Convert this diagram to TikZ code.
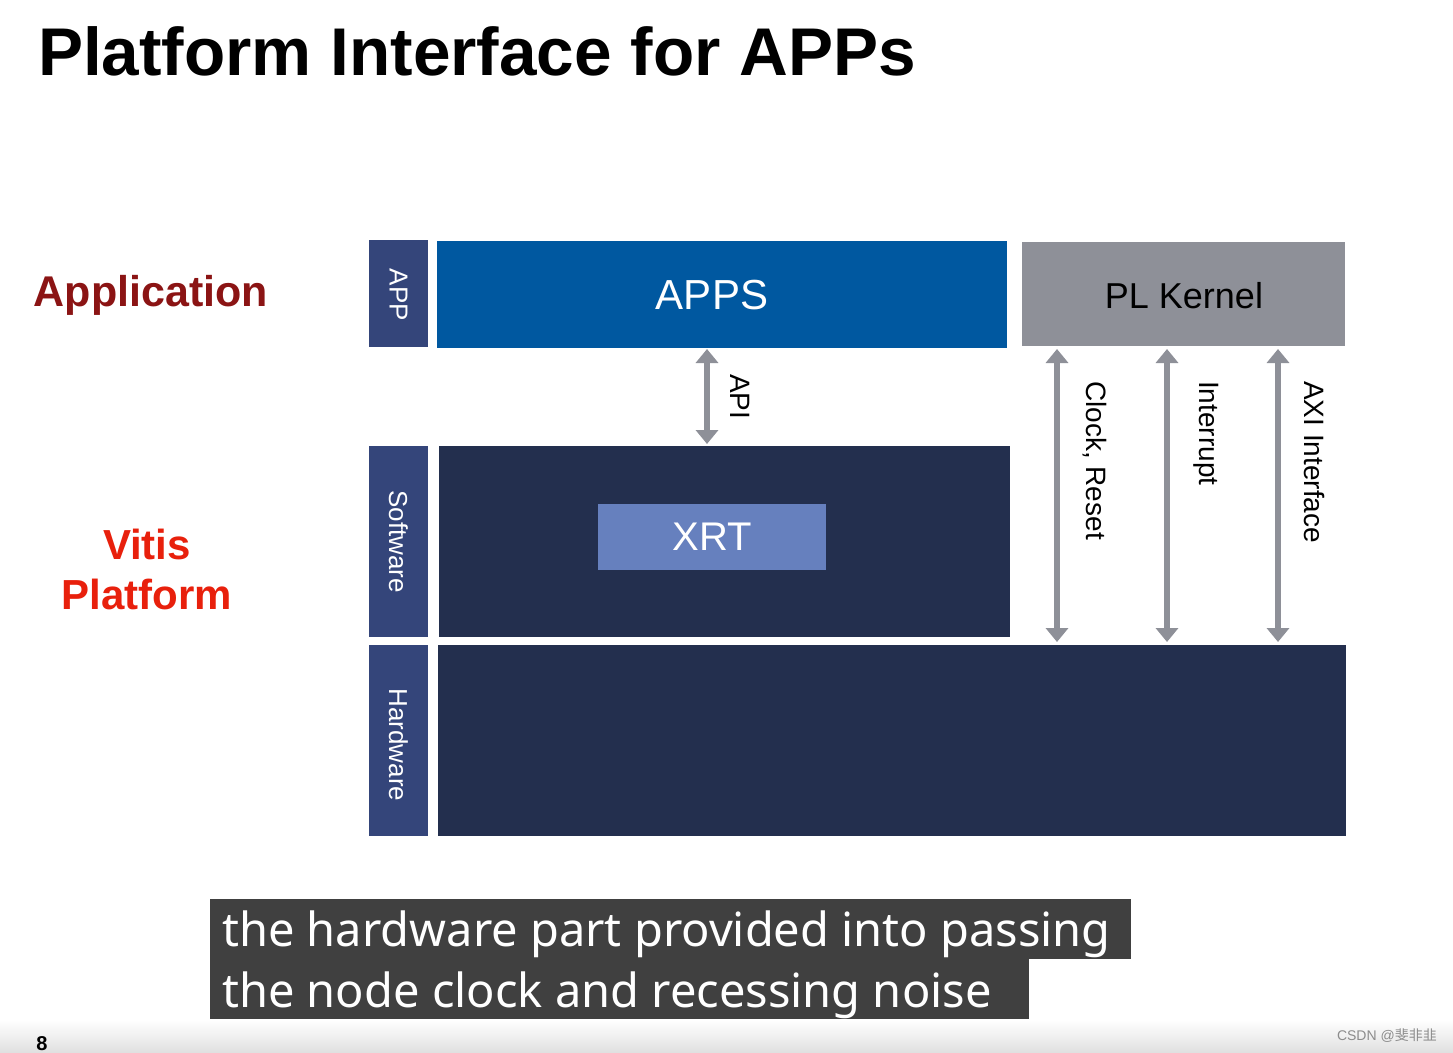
\documentclass[tikz,border=0pt]{standalone}
\usepackage{fontspec}
\setmainfont{Liberation Sans}
\newfontfamily\capfont{Noto Sans}
\newfontfamily\cjkfont{Noto Sans CJK SC}
\usetikzlibrary{arrows.meta}
\definecolor{side}{HTML}{34457A}
\definecolor{apps}{HTML}{0058A0}
\definecolor{plk}{HTML}{8E9098}
\definecolor{dark}{HTML}{232F4E}
\definecolor{xrt}{HTML}{6680BE}
\definecolor{darkred}{HTML}{8B1414}
\definecolor{vred}{HTML}{E8200C}
\definecolor{capbg}{HTML}{404040}
\tikzset{
 sidel/.style={text=white,font=\fontsize{26}{26}\selectfont,rotate=-90},
 arr/.style={draw=plk,line width=6pt,{Triangle[length=14pt,width=22pt]}-{Triangle[length=14pt,width=22pt]}},
 arrl/.style={font=\fontsize{28}{28}\selectfont,rotate=-90,anchor=south west,inner sep=0},
 captxt/.style={anchor=base west,inner sep=0,text=white,font=\capfont\fontsize{47}{47}\selectfont},
}
\begin{document}
\begin{tikzpicture}[x=1pt,y=-1pt]
\useasboundingbox (0,0) rectangle (1453,1052);
\fill[white] (0,0) rectangle (1453,1052);
\shade[top color=white,bottom color=black!12] (0,1020) rectangle (1453,1052);
\node[anchor=base west,inner sep=0,font=\bfseries\fontsize{67.5}{67.5}\selectfont] (title) at (38,75) {Platform Interface for APPs};
\node[text=darkred,font=\bfseries\fontsize{43}{43}\selectfont] (appl) at (151,295) {Application};
\node[text=vred,font=\bfseries\fontsize{42}{50}\selectfont,align=center] (vitis) at (147,569) {Vitis\\Platform};
\fill[side] (369,240) rectangle (428,347); \node[sidel] (sapp) at (398.5,295) {APP};
\fill[side] (369,446) rectangle (428,637); \node[sidel] (ssw) at (398.5,541.5) {Software};
\fill[side] (369,645) rectangle (428,836); \node[sidel] (shw) at (398.5,745) {Hardware};
\fill[apps] (437,241) rectangle (1007,348);
\node[text=white,font=\fontsize{42}{42}\selectfont] (appsn) at (712,295) {APPS};
\fill[plk] (1022,242) rectangle (1345,346);
\node[font=\fontsize{36}{36}\selectfont] (pl) at (1184,296) {PL Kernel};
\fill[dark] (439,446) rectangle (1010,637);
\fill[xrt] (598,504) rectangle (826,570);
\node[text=white,font=\fontsize{40}{40}\selectfont] (xrtn) at (712,537) {XRT};
\fill[dark] (438,645) rectangle (1346,836);
\coordinate (a1) at (707,349); \coordinate (a2) at (707,444);
\draw[arr] (a1) -- (a2);
\node[arrl] (apil) at (730,374) {API};
\foreach \x/\t/\n in {1057/{Clock, Reset}/c,1167/Interrupt/i,1278/{AXI Interface}/x}{
 \coordinate (\n1) at (\x,349); \coordinate (\n2) at (\x,642);
 \draw[arr] (\n1) -- (\n2);
 \node[arrl] (\n l) at (\x+26,381) {\t};
}
\fill[capbg] (210,899) rectangle (1131,959);
\fill[capbg] (210,959) rectangle (1029,1019);
\node[captxt] (c1) at (222,946) {the hardware part provided into passing};
\node[captxt] (c2) at (222,1007) {the node clock and recessing noise};
\node[anchor=base,inner sep=0,font=\bfseries\fontsize{20}{20}\selectfont] (pg) at (42,1050) {8};
\node[anchor=base east,inner sep=0,text=black!45,font=\fontsize{14}{14}\selectfont] (csdn) at (1437,1040) {CSDN @{\cjkfont 斐非韭}};
\end{tikzpicture}
\end{document}
